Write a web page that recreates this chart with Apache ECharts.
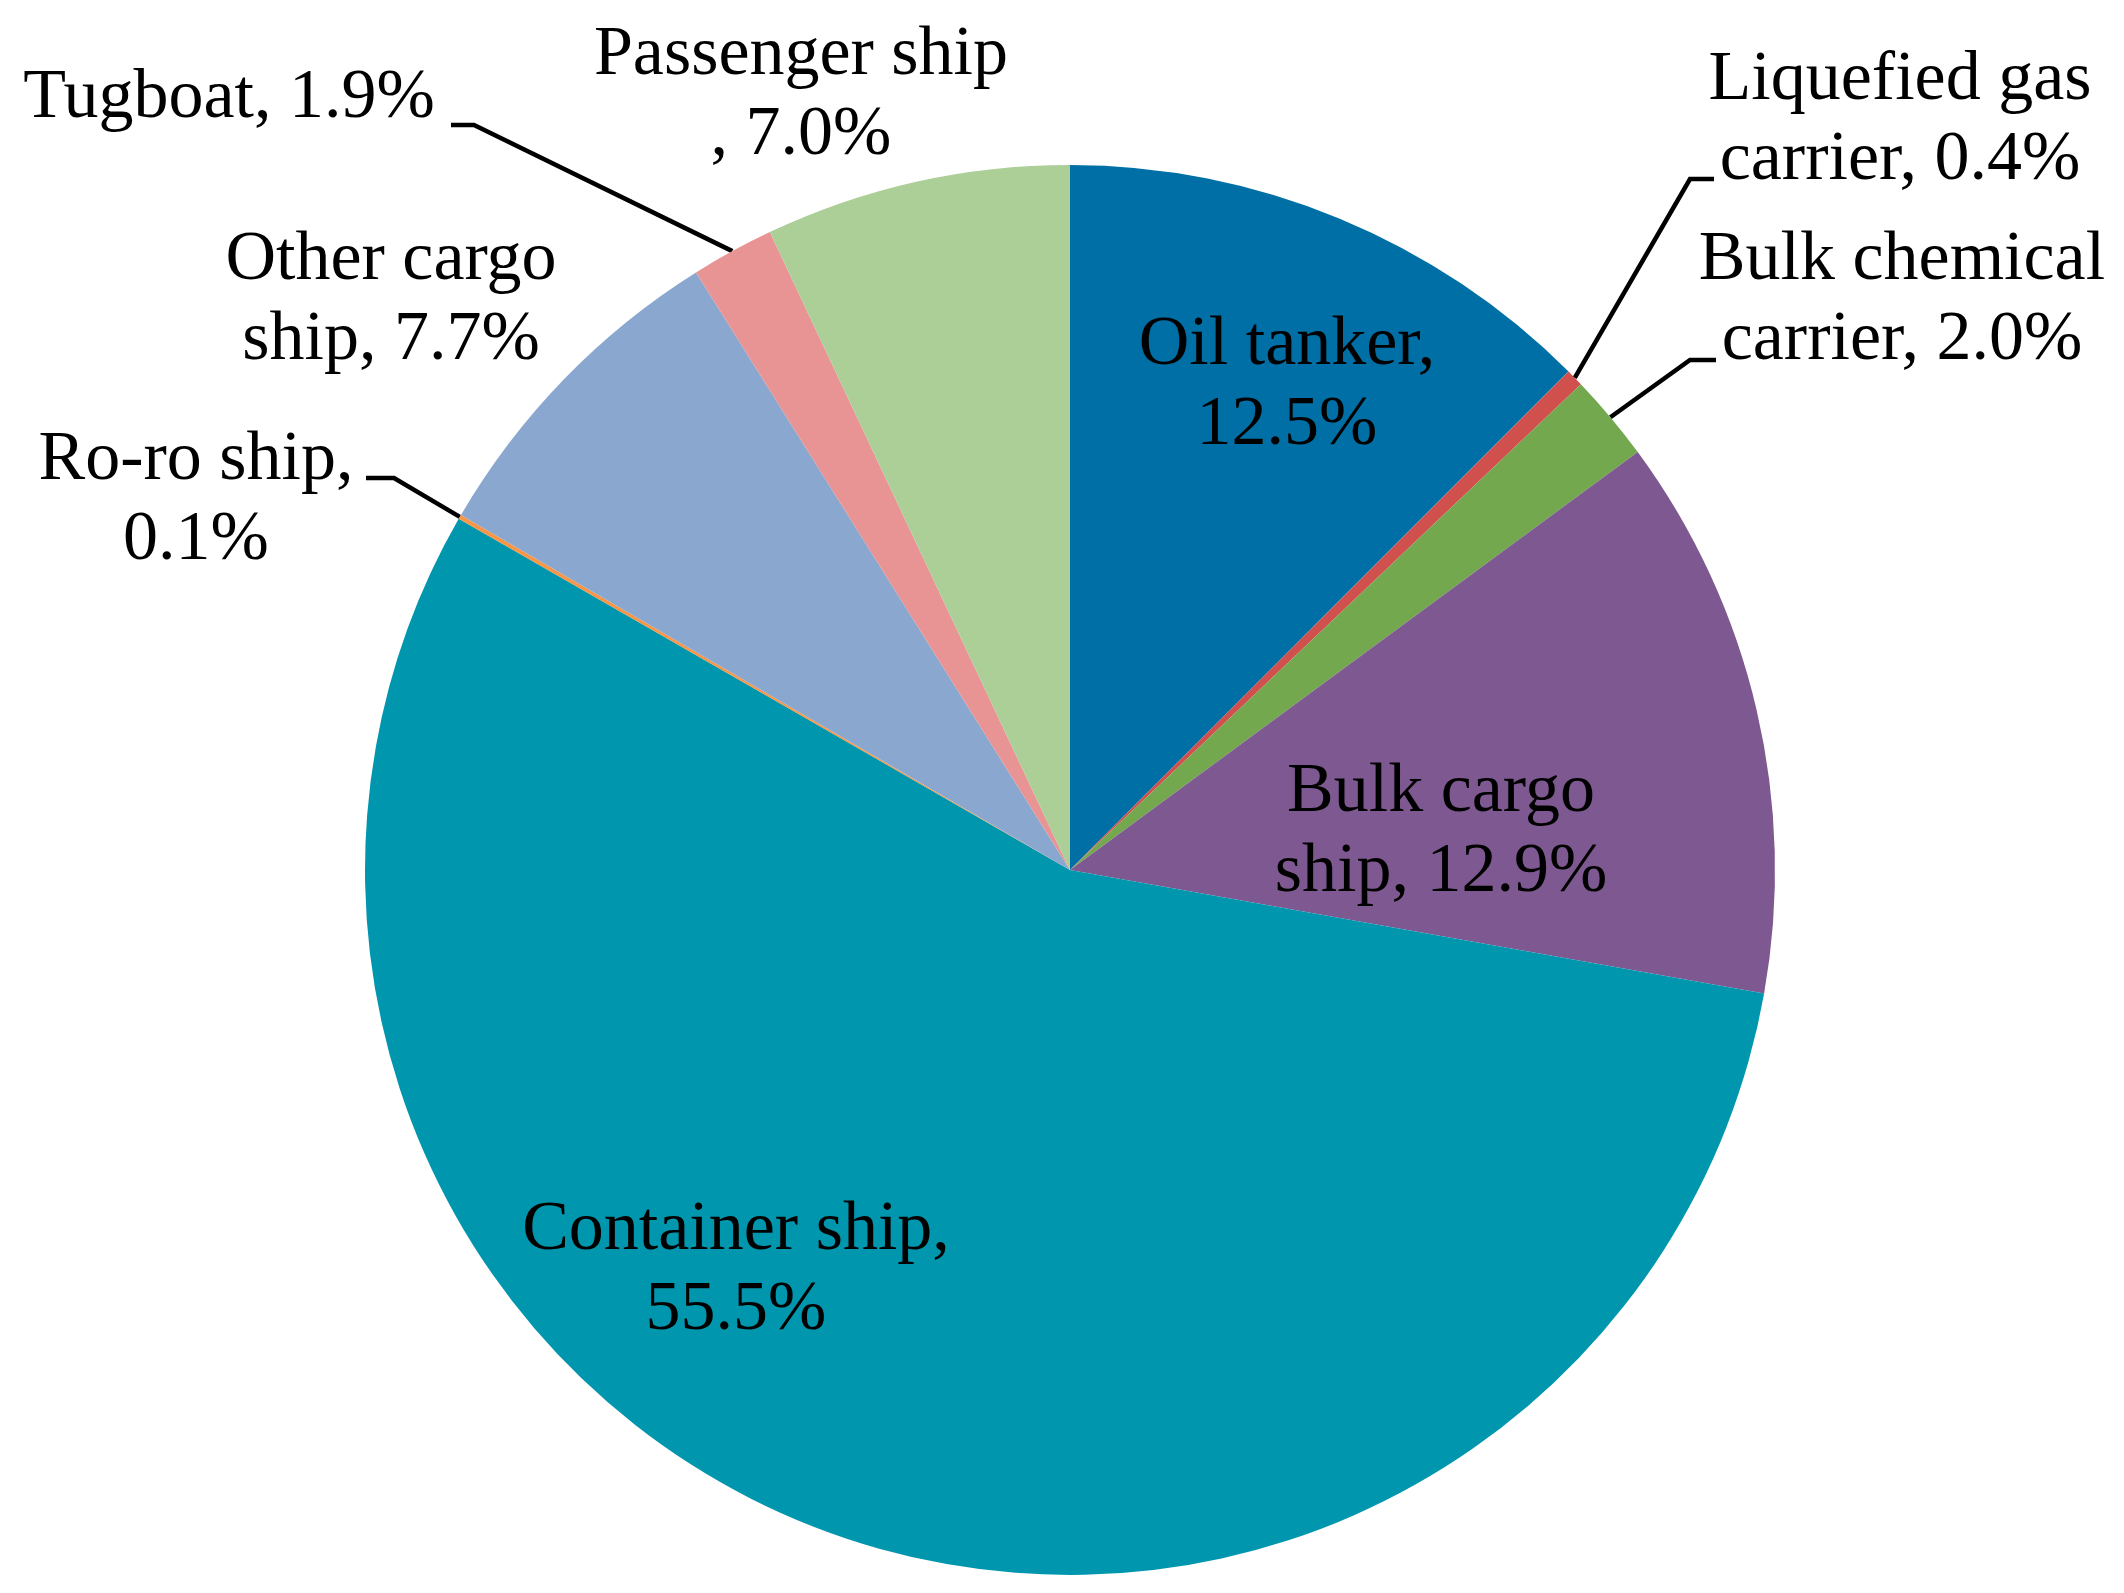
<!DOCTYPE html>
<html>
<head>
<meta charset="utf-8">
<script src="https://cdn.jsdelivr.net/npm/echarts@6/dist/echarts.min.js"></script>
<style>
html,body{margin:0;padding:0;background:#fff;}
#chart{width:2124px;height:1593px;}
</style>
</head>
<body>
<div id="chart"></div>
<script>
var categories = ['Oil tanker', 'Liquefied gas carrier', 'Bulk chemical carrier', 'Bulk cargo ship', 'Container ship', 'Ro-ro ship', 'Other cargo ship', 'Tugboat', 'Passenger ship'];
var values = [12.5, 0.4, 2.0, 12.9, 55.5, 0.1, 7.7, 1.9, 7.0];
var labelTemplates = ['Oil tanker,\n{v}%', 'Liquefied gas\ncarrier, {v}%', 'Bulk chemical\ncarrier, {v}%', 'Bulk cargo\nship, {v}%', 'Container ship,\n{v}%', 'Ro-ro ship,\n{v}%', 'Other cargo\nship, {v}%', 'Tugboat, {v}%', 'Passenger ship\n, {v}%'];
var colors = ['#006FA6', '#D0504E', '#74A84F', '#7E5890', '#0096AE', '#F79646', '#8AA7CF', '#E89494', '#ABCF97'];

// label placement (pixels) and leader elbows
var labelPos = [
  {x: 1287, y: 386},
  {x: 1900, y: 121, line: [[1690, 179], [1714, 179]]},
  {x: 1902, y: 301, line: [[1690, 360], [1716, 360]]},
  {x: 1441, y: 833},
  {x: 736, y: 1271},
  {x: 196, y: 501, line: [[394, 478], [366, 478]]},
  {x: 391, y: 301},
  {x: 229, y: 99, line: [[474, 125], [451, 125]]},
  {x: 801, y: 96}
];

var CX = 1070, CY = 870, R = 705;
var total = values.reduce(function (a, b) { return a + b; }, 0);

var chart = echarts.init(document.getElementById('chart'));
var data = categories.map(function (name, i) {
  return {
    name: name,
    value: values[i],
    itemStyle: {color: colors[i]},
    labelLine: {show: !!labelPos[i].line, lineStyle: {color: '#000', width: 4.5}}
  };
});

chart.setOption({
  backgroundColor: '#ffffff',
  animation: false,
  series: [{
    type: 'pie',
    center: [CX, CY],
    radius: [0, R],
    startAngle: 90,
    clockwise: true,
    avoidLabelOverlap: false,
    data: data,
    itemStyle: {borderWidth: 0},
    label: {
      show: true,
      position: 'outside',
      fontFamily: 'Liberation Serif',
      fontSize: 70,
      lineHeight: 80,
      color: '#000',
      align: 'center',
      formatter: function (p) {
        return labelTemplates[p.dataIndex].replace('{v}', p.value.toFixed(1));
      }
    },
    labelLine: {
      show: true,
      length: 20,
      length2: 20,
      lineStyle: {color: '#000', width: 4.5}
    },
    labelLayout: function (params) {
      var i = params.dataIndex;
      var lp = labelPos[i];
      var res = {x: lp.x, y: lp.y, align: 'center', verticalAlign: 'middle'};
      if (lp.line) {
        var start;
        if (params.labelLinePoints && params.labelLinePoints[0]) {
          start = params.labelLinePoints[0];
        } else {
          var before = 0;
          for (var k = 0; k < i; k++) before += values[k];
          var mid = (before + values[i] / 2) / total * 2 * Math.PI;
          start = [CX + R * Math.sin(mid), CY - R * Math.cos(mid)];
        }
        res.labelLinePoints = [[start[0], start[1]], lp.line[0], lp.line[1]];
      }
      return res;
    }
  }]
});
</script>
</body>
</html>
